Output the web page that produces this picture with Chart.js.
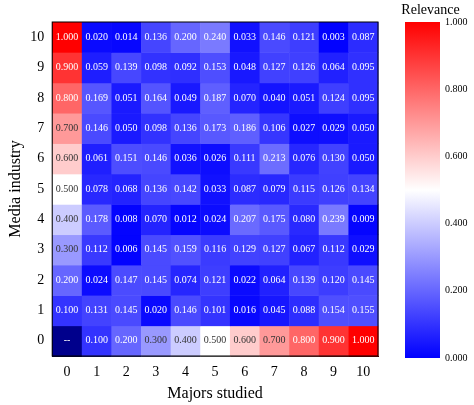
<!DOCTYPE html>
<html><head><meta charset="utf-8">
<script src="https://cdn.jsdelivr.net/npm/chart.js@4/dist/chart.umd.min.js"></script>
<style>body{margin:0;background:#fff}#wrap{position:relative;width:474px;height:405px}canvas{position:absolute;top:0}</style>
</head><body><div id="wrap"><canvas id="main" width="474" height="405" style="left:0"></canvas><canvas id="bar" width="79" height="405" style="left:395px"></canvas></div>
<script>
// rows from media industry 0 up to 10, columns majors 0..10
const majors = [0,1,2,3,4,5,6,7,8,9,10];
const industries = [0,1,2,3,4,5,6,7,8,9,10];
const row10 = [1.000,0.020,0.014,0.136,0.200,0.240,0.033,0.146,0.121,0.003,0.087];
const row9  = [0.900,0.059,0.139,0.098,0.092,0.153,0.048,0.127,0.126,0.064,0.095];
const row8  = [0.800,0.169,0.051,0.164,0.049,0.187,0.070,0.040,0.051,0.124,0.095];
const row7  = [0.700,0.146,0.050,0.098,0.136,0.173,0.186,0.106,0.027,0.029,0.050];
const row6  = [0.600,0.061,0.151,0.146,0.036,0.026,0.111,0.213,0.076,0.130,0.050];
const row5  = [0.500,0.078,0.068,0.136,0.142,0.033,0.087,0.079,0.115,0.126,0.134];
const row4  = [0.400,0.178,0.008,0.070,0.012,0.024,0.207,0.175,0.080,0.239,0.009];
const row3  = [0.300,0.112,0.006,0.145,0.159,0.116,0.129,0.127,0.067,0.112,0.029];
const row2  = [0.200,0.024,0.147,0.145,0.074,0.121,0.022,0.064,0.139,0.120,0.145];
const row1  = [0.100,0.131,0.145,0.020,0.146,0.101,0.016,0.045,0.088,0.154,0.155];
const row0  = [null,0.100,0.200,0.300,0.400,0.500,0.600,0.700,0.800,0.900,1.000];
const rows = [row0,row1,row2,row3,row4,row5,row6,row7,row8,row9,row10];
const barTicks = [0,0.2,0.4,0.6,0.8,1.0];

function colorOf(v){
  if(v===null) return [0,0,140];
  let r,g,b;
  if(v<0.5){const t=v/0.5;r=Math.round(255*t);g=r;b=255;}
  else{const t=(v-0.5)/0.5;r=255;g=Math.round(255*(1-t));b=g;}
  return [r,g,b];
}
const serif = 'Liberation Serif';
const pts = [];
industries.forEach(y=>majors.forEach(x=>pts.push({x:x,y:y,v:rows[y][x]})));

const heat = {
  id:'heat',
  beforeDatasetsDraw(chart){
    const ctx=chart.ctx, xs=chart.scales.x, ys=chart.scales.y;
    ctx.save();
    pts.forEach(p=>{
      const x0=xs.getPixelForValue(p.x-0.5), x1=xs.getPixelForValue(p.x+0.5);
      const y0=ys.getPixelForValue(p.y+0.5), y1=ys.getPixelForValue(p.y-0.5);
      const c=colorOf(p.v);
      ctx.fillStyle=`rgb(${c[0]},${c[1]},${c[2]})`;
      ctx.fillRect(x0,y0,x1-x0+0.5,y1-y0+0.5);
      const lum=0.3*c[0]+0.59*c[1]+0.11*c[2];
      ctx.fillStyle=lum>150?'#333':'#fff';
      ctx.font='10px '+serif;
      ctx.textAlign='center';ctx.textBaseline='middle';
      ctx.fillText(p.v===null?'--':p.v.toFixed(3),(x0+x1)/2,(y0+y1)/2);
    });
    ctx.strokeStyle='#000';ctx.lineWidth=1;
    ctx.strokeRect(xs.left,ys.top,xs.right-xs.left,ys.bottom-ys.top);
    ctx.restore();
  }
};

new Chart(document.getElementById('main'),{
  type:'scatter',
  data:{datasets:[{data:pts,pointRadius:0}]},
  options:{
    responsive:false,animation:false,
    layout:{padding:{top:22,right:96,left:4,bottom:2}},
    plugins:{legend:{display:false},tooltip:{enabled:false}},
    scales:{
      x:{min:-0.5,max:10.5,afterBuildTicks(a){a.ticks=majors.map(v=>({value:v}));},
        grid:{display:false,drawTicks:true,tickLength:5,color:'#000'},border:{color:'#000'},
        ticks:{color:'#000',font:{family:serif,size:14},maxRotation:0,autoSkip:false},
        title:{display:true,text:'Majors studied',color:'#000',font:{family:serif,size:16},padding:0}},
      y:{min:-0.5,max:10.5,afterBuildTicks(a){a.ticks=industries.map(v=>({value:v}));},
        grid:{display:false,drawTicks:true,tickLength:5,color:'#000'},border:{color:'#000'},
        ticks:{color:'#000',font:{family:serif,size:14},autoSkip:false},
        title:{display:true,text:'Media industry',color:'#000',font:{family:serif,size:16},padding:2}}
    }
  },
  plugins:[heat]
});

const grad = {
  id:'grad',
  beforeDatasetsDraw(chart){
    const ctx=chart.ctx, a=chart.chartArea;
    const g=ctx.createLinearGradient(0,a.bottom,0,a.top);
    g.addColorStop(0,'rgb(0,0,255)');g.addColorStop(0.5,'rgb(255,255,255)');g.addColorStop(1,'rgb(255,0,0)');
    ctx.fillStyle=g;ctx.fillRect(a.left,a.top,a.right-a.left,a.bottom-a.top);
    ctx.fillStyle='#000';ctx.font='14px '+serif;ctx.textAlign='center';ctx.textBaseline='alphabetic';
    ctx.fillText('Relevance',(a.left+a.right)/2+8,14);
  }
};
new Chart(document.getElementById('bar'),{
  type:'bar',
  data:{labels:[''],datasets:[{data:[0]}]},
  options:{
    responsive:false,animation:false,
    layout:{padding:{top:22,bottom:47,left:10,right:0}},
    plugins:{legend:{display:false},tooltip:{enabled:false}},
    scales:{
      x:{display:false},
      y:{position:'right',min:0,max:1,afterBuildTicks(a){a.ticks=barTicks.map(v=>({value:v}));},
        afterFit(a){a.width=34;},
        grid:{display:false,drawTicks:true,tickLength:3,color:'#000'},border:{display:false},
        ticks:{color:'#000',font:{family:serif,size:10},callback:v=>v.toFixed(3),padding:2}}
    }
  },
  plugins:[grad]
});
</script>
</body></html>
